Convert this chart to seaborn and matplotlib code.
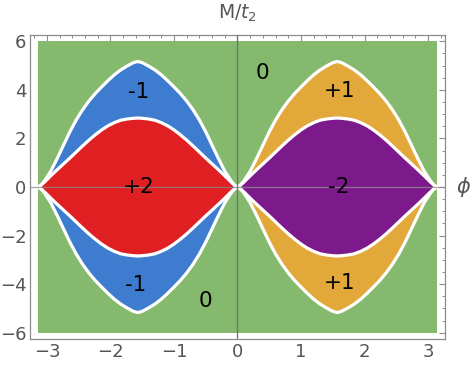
import matplotlib.pyplot as plt
import matplotlib.ticker as mticker
import numpy as np
import pandas as pd
import seaborn as sns

# Phase diagram: Chern number regions in the (phi, M/t2) plane
# boundary curves (left lobe, upper half; the rest is mirrored)
phi_lobe = [-3.14, -3.09, -3.04, -2.94, -2.84, -2.74, -2.64, -2.54, -2.44, -2.34,
            -2.24, -2.14, -2.04, -1.94, -1.84, -1.74, -1.64, -1.57,
            -1.50, -1.40, -1.30, -1.20, -1.10, -1.00, -0.90, -0.80, -0.70,
            -0.60, -0.50, -0.40, -0.30, -0.20, -0.10, -0.05, 0.00]
outer_m = [0.0, 0.08, 0.25, 0.65, 1.17, 1.72, 2.27, 2.76, 3.18, 3.54,
           3.85, 4.12, 4.38, 4.62, 4.82, 4.98, 5.12, 5.17,
           5.12, 4.98, 4.82, 4.62, 4.38, 4.12, 3.85, 3.54, 3.18,
           2.76, 2.27, 1.72, 1.17, 0.65, 0.25, 0.08, 0.0]
inner_m = [0.0, 0.09, 0.2, 0.46, 0.71, 0.95, 1.19, 1.44, 1.69, 1.93,
           2.15, 2.35, 2.52, 2.65, 2.75, 2.8, 2.83, 2.84,
           2.83, 2.8, 2.75, 2.65, 2.52, 2.35, 2.15, 1.93, 1.69,
           1.44, 1.19, 0.95, 0.71, 0.46, 0.2, 0.09, 0.0]

phi_range = [-3.14, 3.14]
m_range = [-6.0, 6.0]

region_text = ["-1", "+2", "-1", "0", "0", "+1", "-2", "+1"]
region_phi = [-1.55, -1.55, -1.6, -0.5, 0.4, 1.6, 1.6, 1.6]
region_m = [3.9, 0.0, -4.05, -4.7, 4.7, 3.95, 0.0, -3.95]

x_ticks = [-3, -2, -1, 0, 1, 2, 3]
y_ticks = [-6, -4, -2, 0, 2, 4, 6]

col_green = "#85b96d"
col_blue = "#3e7ccf"
col_red = "#e01f22"
col_orange = "#e3a83a"
col_purple = "#7c1a8c"

sns.set_theme(style="white")
plt.rcParams["font.family"] = ["DejaVu Sans"]
plt.rcParams["mathtext.fontset"] = "dejavusans"

phi_l = np.array(phi_lobe)
phi_r = -phi_l
outer = np.array(outer_m)
inner = np.array(inner_m)

fig = plt.figure(figsize=(4.74, 3.74), dpi=100)
ax = fig.add_axes([0.0643, 0.0936, 0.8735, 0.8128])

# background phase (C = 0)
ax.fill_between(phi_range, m_range[0], m_range[1], color=col_green, lw=0, zorder=1)

# left lobe
ax.fill_between(phi_l, inner, outer, color=col_blue, lw=0, zorder=2)
ax.fill_between(phi_l, -outer, -inner, color=col_blue, lw=0, zorder=2)
ax.fill_between(phi_l, -inner, inner, color=col_red, lw=0, zorder=2)
# right lobe
ax.fill_between(phi_r, inner, outer, color=col_orange, lw=0, zorder=2)
ax.fill_between(phi_r, -outer, -inner, color=col_orange, lw=0, zorder=2)
ax.fill_between(phi_r, -inner, inner, color=col_purple, lw=0, zorder=2)

# white boundaries between the phases
rows = []
for side, ph in (("l", phi_l), ("r", phi_r)):
    for name, vals in (("outer", outer), ("inner", inner)):
        for sgn in (1, -1):
            key = f"{side}_{name}_{sgn}"
            for p, v in zip(ph, vals):
                rows.append({"phi": p, "M": sgn * v, "curve": key})
df = pd.DataFrame(rows)
sns.lineplot(data=df, x="phi", y="M", units="curve", estimator=None, sort=False,
             color="white", lw=2.3, ax=ax, zorder=3, legend=False)

# axes through the origin
ax.axhline(0, color="#8a8a8a", lw=0.9, alpha=0.8, zorder=4)
ax.axvline(0, color="#707070", lw=0.9, zorder=4)

for t, p, m in zip(region_text, region_phi, region_m):
    ax.text(p, m, t, ha="center", va="center", fontsize=15.5, color="black", zorder=5)

ax.set_xlim(-3.26, 3.26)
ax.set_ylim(-6.26, 6.26)
ax.set_xticks(x_ticks)
ax.set_yticks(y_ticks)
ax.xaxis.set_minor_locator(mticker.MultipleLocator(0.2))
ax.yaxis.set_minor_locator(mticker.MultipleLocator(0.5))
ax.tick_params(which="both", direction="in", top=True, right=True, color="#8c8c8c",
               labelcolor="#555555", labelsize=13)
ax.tick_params(which="major", length=4.5, width=0.8, pad=3)
ax.tick_params(which="minor", length=2.5, width=0.7)
ax.set_xlabel("")
ax.set_ylabel("")
for s in ax.spines.values():
    s.set_color("#8c8c8c")
    s.set_linewidth(0.9)

fig.text(0.502, 0.965, "M/$t_2$", ha="center", va="center", fontsize=13.5, color="#555555")
fig.text(0.977, 0.5, r"$\phi$", ha="center", va="center", fontsize=15, color="#555555")

fig.savefig("out.png", dpi=100)
